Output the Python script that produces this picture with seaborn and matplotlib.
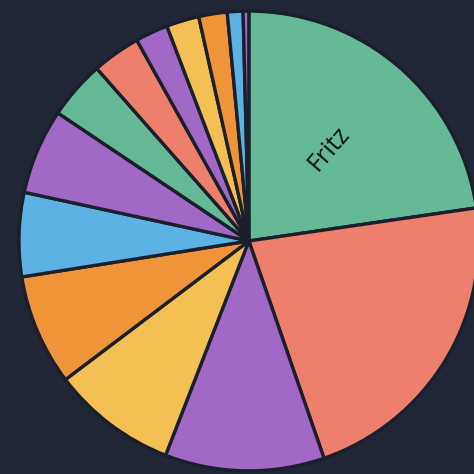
import matplotlib
matplotlib.use("Agg")
import matplotlib.pyplot as plt
import seaborn as sns

# slice shares (percent), read clockwise from 12 o'clock
labels = ["Fritz", "", "", "", "", "", "", "", "", "", "", "", "", ""]
values = [22.7, 22.0, 11.2, 8.8, 7.8, 5.9, 6.0, 4.1, 3.4, 2.3, 2.3, 2.0, 1.1, 0.4]
base_colors = ["#66b996", "#ef7f6d", "#a168c5", "#f4c053", "#f0943a", "#5cb2e2", "#a168c5"]

bg = "#202636"
sns.set_theme(style="white", rc={"figure.facecolor": bg, "axes.facecolor": bg})
plt.rcParams["font.family"] = ["Open Sans", "DejaVu Sans"]
palette = sns.color_palette(base_colors)
colors = [palette[i % len(palette)] for i in range(len(values))]

fig = plt.figure(figsize=(4.74, 4.74), dpi=100)
ax = fig.add_axes([0.04, 0.0066, 0.97, 0.97])

wedges, texts = ax.pie(
    values, labels=labels, colors=colors, startangle=90, counterclock=False,
    labeldistance=0.53, rotatelabels=True,
    wedgeprops={"edgecolor": "#1a1f2c", "linewidth": 2.4},
    textprops={"fontsize": 18, "color": "#111111"},
)
for t in texts:
    t.set_horizontalalignment("center")
    t.set_verticalalignment("center")

ax.set_xlim(-1, 1)
ax.set_ylim(-1, 1)
ax.set_aspect("equal")
ax.axis("off")

fig.savefig("out.png", dpi=100, facecolor=bg)
